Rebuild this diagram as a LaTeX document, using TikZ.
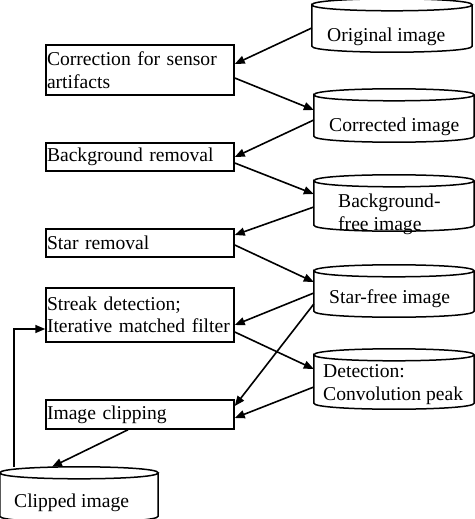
\documentclass[tikz,border=0pt]{standalone}
\usepackage{fontspec}
\setmainfont{Liberation Serif}
\usetikzlibrary{arrows.meta}

\begin{document}
\begin{tikzpicture}[x=1pt,y=-1pt,font=\fontsize{19.6}{22.5}\selectfont,
  box/.style={draw,line width=1.5pt,minimum width=188pt,text width=186pt,
              inner xsep=1pt,inner ysep=0pt,align=left},
  db/.style={minimum width=160pt,inner sep=0pt},
  txt/.style={anchor=base west,inner sep=0pt,align=left},
  a/.style={-{Triangle[length=10pt,width=8pt]},line width=1.6pt}]
\useasboundingbox (0,0) rectangle (474,519);
% processing steps
\node[box,minimum height=50pt] (b1) at (140,70)    {Correction for sensor\\artifacts};
\node[box,minimum height=28pt] (b2) at (140,157)   {Background removal};
\node[box,minimum height=28pt] (b3) at (140,243)   {Star removal};
\node[box,minimum height=54pt] (b4) at (140,315)   {Streak detection;\\Iterative matched filter};
\node[box,minimum height=29pt] (b5) at (140,414.5) {Image clipping};
% data
\node[db,minimum height=53pt] (c1) at (392,25.5) {};
\node[db,minimum height=53pt] (c2) at (394,115.5) {};
\node[db,minimum height=56pt] (c3) at (394,203) {};
\node[db,minimum height=52pt] (c4) at (394,291) {};
\node[db,minimum height=60pt] (c5) at (394,379) {};
\node[db,minimum height=55pt,minimum width=158pt] (c6) at (79,494.5) {};
\foreach \n in {c1,c2,c3,c4,c5,c6}
  \draw[line width=1.5pt] ([yshift=-6pt]\n.north west) .. controls +(0,-8) and +(0,-8) .. ([yshift=-6pt]\n.north east)
    .. controls +(0,8) and +(0,8) .. ([yshift=-6pt]\n.north west) -- ([yshift=6pt]\n.south west)
    .. controls +(0,8) and +(0,8) .. ([yshift=6pt]\n.south east) -- ([yshift=-6pt]\n.north east);
\node[txt] (t1) at (327,42)  {Original image};
\node[txt] (t2) at (329,131) {Corrected image};
\node[txt] (t3) at (338,230) {Background-\\free image};
\node[txt] (t4) at (329,303) {Star-free image};
\node[txt] (t5) at (323,400) {Detection:\\Convolution peak};
\node[txt] (t6) at (14,507)  {Clipped image};
% flow
\draw[a] (c1.west |- 0,28)  -- (b1.east |- 0,64);
\draw[a] (b1.east |- 0,78)  -- (c2.west |- 0,110);
\draw[a] (c2.west |- 0,120) -- (b2.east |- 0,157);
\draw[a] (b2.east |- 0,163) -- (c3.west |- 0,194);
\draw[a] (c3.west |- 0,207) -- (b3.east |- 0,235);
\draw[a] (b3.east |- 0,245) -- (c4.west |- 0,282);
\draw[a] (c4.west |- 0,293) -- (b4.east |- 0,325);
\draw[a] (c4.west |- 0,304) -- (b5.east |- 0,406);
\draw[a] (b4.east |- 0,332) -- (c5.west |- 0,369);
\draw[a] (c5.west |- 0,387) -- (b5.east |- 0,418);
\draw[a] (b5.south -| 128,0) -- (c6.north -| 52,0);
\draw[a] (c6.north -| 14,0) |- (b4.west |- 0,329);
\end{tikzpicture}
\end{document}
